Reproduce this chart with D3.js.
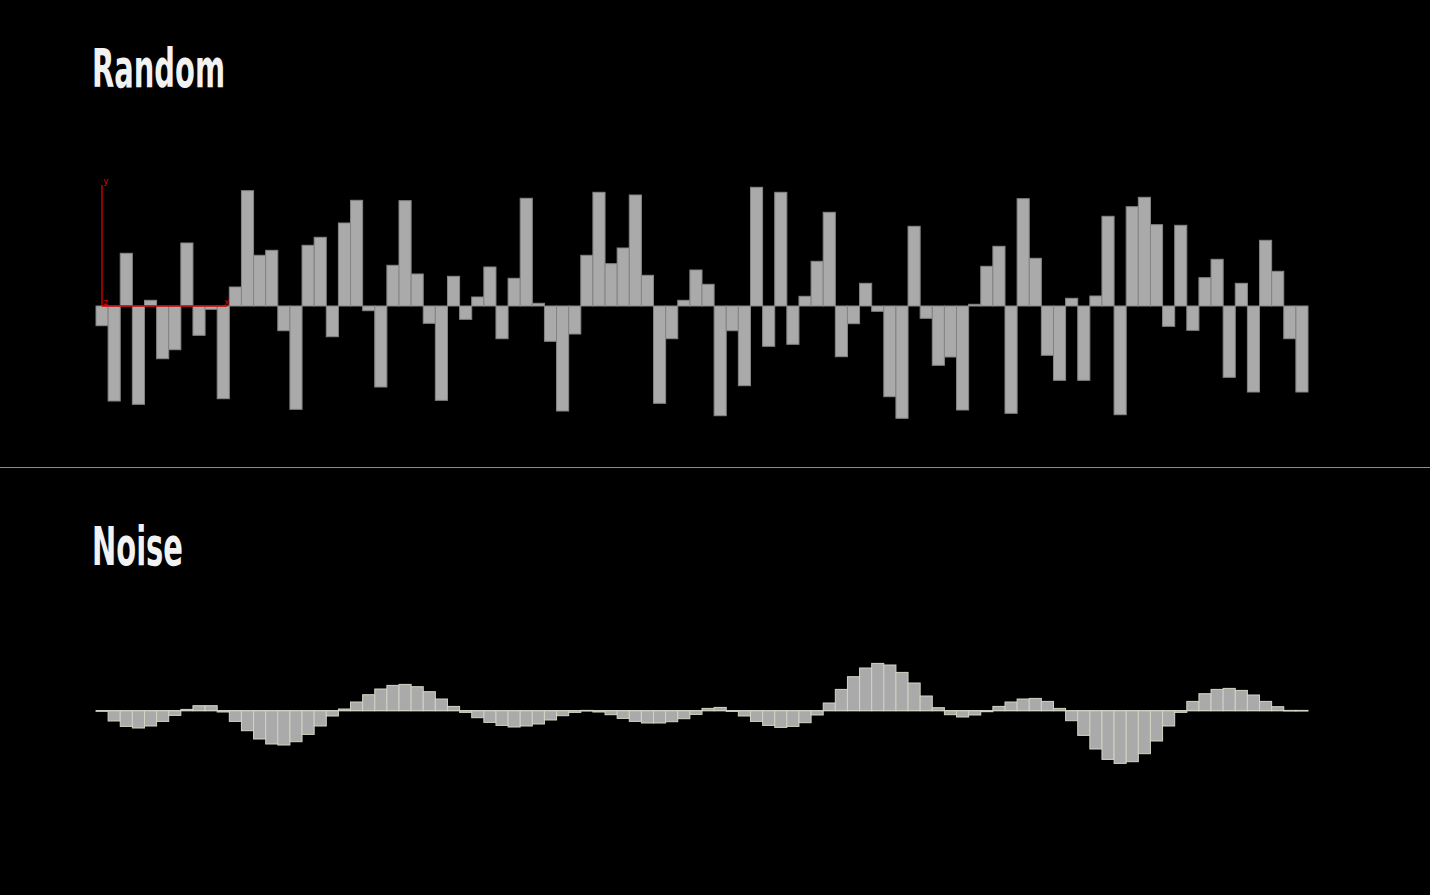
<!DOCTYPE html>
<html>
<head>
<meta charset="utf-8">
<script src="https://cdn.jsdelivr.net/npm/d3@7/dist/d3.min.js"></script>
<style>
  html, body { margin: 0; padding: 0; background: #000; }
  svg { display: block; }
</style>
</head>
<body>
<div id="elements"></div>
<script>
'use strict';
// bar values, one per column (100 columns)
var randomValues = [
  -19.7, -95, 52.7, -98.3, 5.7, -52.7, -43.7, 63, -29.3, -3.3,
  -92.7, 19, 115.3, 50.7, 55.7, -24.7, -103.3, 60.7, 68.7, -30.7,
  83, 105.7, -4.7, -81, 40.7, 105.3, 32, -17.3, -94.3, 29.7,
  -13.3, 9, 39, -32.7, 27.7, 107.7, 2.7, -35.3, -105, -28,
  50.7, 113.7, 42.3, 58, 111, 30.7, -97.3, -32.7, 5.7, 36,
  21.7, -109.7, -24.7, -79.7, 118.7, -40.3, 113.7, -38.3, 9.7, 44.7,
  93.7, -50.7, -17.7, 22.7, -5.3, -90.7, -112.3, 79.7, -12.3, -59.3,
  -51, -104, 1.7, 39.7, 59.7, -107.3, 107.3, 47.7, -49.3, -74.3,
  7.7, -74.3, 10, 89.7, -108.7, 99.3, 108.7, 81.3, -20.3, 80.7,
  -24.3, 28.3, 46.7, -71.3, 22.7, -86, 65.7, 34.7, -32.7, -86
];
var noiseValues = [
  -0.5, -10.3, -15.7, -17.3, -15.3, -10.7, -4.7, 1.3, 5, 5,
  -1.3, -10.7, -20, -28.3, -33.3, -34.3, -31, -23.7, -15.3, -5.3,
  1.7, 8.7, 16, 21.7, 25.3, 26.3, 24, 19, 11.7, 4.3,
  -1.7, -7, -11.7, -14.7, -16.3, -15.3, -13.3, -9.3, -5, -1.7,
  0.3, -1.3, -4, -7.7, -10.7, -12.3, -12.3, -11, -8, -3.7,
  2.3, 3.3, -0.7, -5.3, -10.7, -14.7, -16.7, -15.7, -12, -4.3,
  7.7, 21.3, 34, 42.7, 47.3, 45.7, 38.3, 27.7, 14.7, 3,
  -4, -6.3, -4.3, -1, 4.3, 8.7, 11.7, 12.3, 9.3, 2.3,
  -10, -24.7, -38.3, -48.7, -52.7, -51, -43, -30.3, -15.3, -1.7,
  9.3, 17, 21.3, 22.3, 20.3, 15.7, 9.3, 4, 0.3, 0.3
];
var titles = ["Random", "Noise"];

var width = 1430, height = 895;
var svg = d3.select("#elements").append("svg")
    .attr("width", width)
    .attr("height", height);

svg.append("rect")
    .attr("width", width)
    .attr("height", height)
    .attr("fill", "#000");

// shared horizontal scale
var x = d3.scaleBand()
    .domain(d3.range(randomValues.length))
    .range([96, 1308])
    .padding(0);

// each panel gets its own baseline
var yRandom = d3.scaleLinear().domain([-120, 120]).range([426, 186]);
var yNoise = d3.scaleLinear().domain([-120, 120]).range([830.7, 590.7]);

function drawBars(g, values, y, stroke) {
    g.selectAll("rect")
        .data(values)
        .enter().append("rect")
            .attr("x", function(d, i) { return x(i); })
            .attr("width", x.bandwidth())
            .attr("y", function(d) { return Math.min(y(d), y(0)); })
            .attr("height", function(d) { return Math.max(Math.abs(y(d) - y(0)), 0.6); })
            .attr("fill", "#aaaaaa")
            .attr("stroke", stroke)
            .attr("stroke-width", 1);
}

drawBars(svg.append("g"), randomValues, yRandom, "#858585");
drawBars(svg.append("g"), noiseValues, yNoise, "#d4d4c4");

// noise baseline line
svg.append("line")
    .attr("x1", x(0)).attr("x2", x(noiseValues.length - 1) + x.bandwidth())
    .attr("y1", yNoise(0)).attr("y2", yNoise(0))
    .attr("stroke", "#d4d4c4").attr("stroke-width", 1);

// red axes helper at the random panel origin
var helper = svg.append("g").attr("stroke", "#d00000").attr("stroke-width", 1.4);
var ox = 102, axisLen = 121;
helper.append("line")
    .attr("x1", ox).attr("x2", ox)
    .attr("y1", yRandom(0)).attr("y2", yRandom(axisLen));
helper.append("line")
    .attr("x1", ox).attr("x2", ox + 125)
    .attr("y1", yRandom(0)).attr("y2", yRandom(0));
var helperLabels = svg.append("g")
    .attr("fill", "#e00000")
    .attr("font-family", "DejaVu Sans Mono, monospace")
    .attr("font-size", 9);
helperLabels.append("text").attr("x", ox + 1).attr("y", yRandom(axisLen) - 1).text("y");
helperLabels.append("text").attr("x", ox + 1).attr("y", yRandom(0) - 1).text("z");
helperLabels.append("text").attr("x", ox + 122).attr("y", yRandom(0) - 1).text("x");

// divider between panels
svg.append("line")
    .attr("x1", 0).attr("x2", width)
    .attr("y1", 467.5).attr("y2", 467.5)
    .attr("stroke", "#8c8c8c").attr("stroke-width", 1.2);

// panel titles
svg.selectAll("text.title")
    .data(titles)
    .enter().append("text")
        .attr("class", "title")
        .attr("x", 92)
        .attr("y", function(d, i) { return i === 0 ? 87 : 565; })
        .attr("fill", "#f2f2f2")
        .attr("font-family", "DejaVu Sans Condensed, DejaVu Sans, sans-serif")
        .attr("font-weight", "bold")
        .attr("font-size", 53)
        .attr("textLength", function(d, i) { return i === 0 ? 133 : 91; })
        .attr("lengthAdjust", "spacingAndGlyphs")
        .text(function(d) { return d; });
</script>
</body>
</html>
